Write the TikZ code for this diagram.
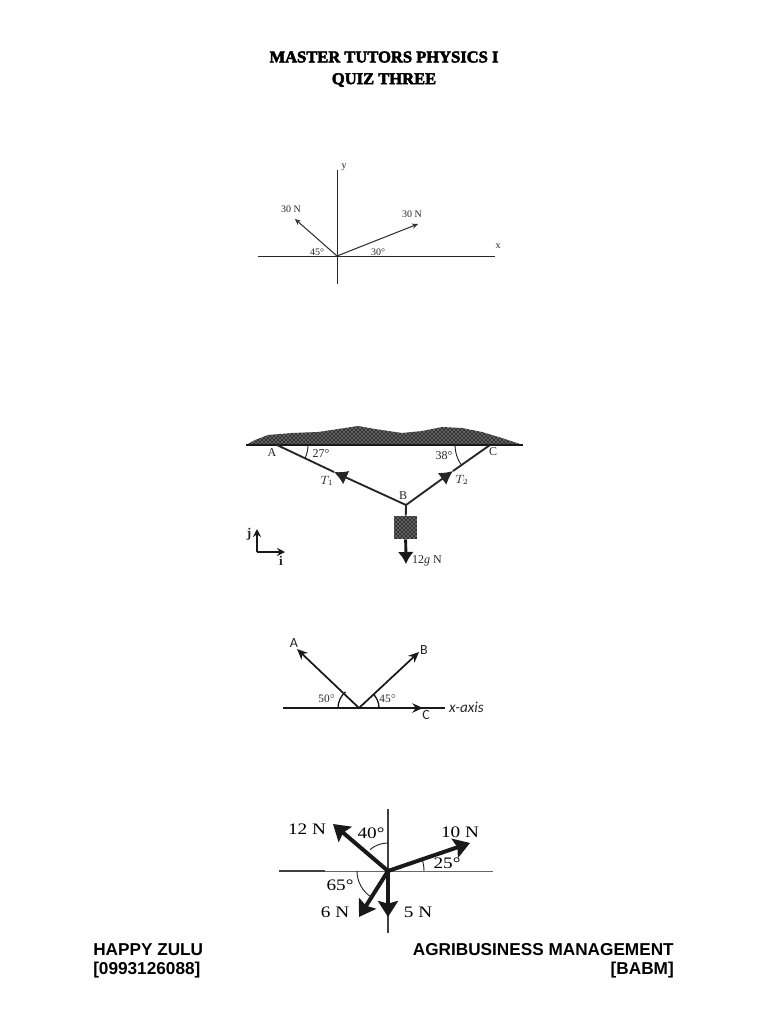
\documentclass[tikz,border=0pt]{standalone}
\usepackage{fontspec}
\usetikzlibrary{arrows.meta,patterns}
\setmainfont{Liberation Serif}
\newfontfamily\titlefont[FakeBold=3]{Liberation Serif}
\newfontfamily\widefont[FakeStretch=1.2]{Liberation Serif}
\newfontfamily\footfont{Liberation Sans}
\newfontfamily\calfont{Carlito}
\tikzset{
  lbl/.style={inner sep=0pt, text=black!85},
  tinyl/.style={lbl, font=\fontsize{7.5}{8}\selectfont},
  midl/.style={lbl, font=\fontsize{9}{10}\selectfont},
  smll/.style={lbl, font=\fontsize{8.5}{10}\selectfont},
  bigl/.style={lbl, text=black, font=\widefont\fontsize{12}{12}\selectfont},
  cal/.style={lbl, font=\calfont\fontsize{10.5}{11}\selectfont},
  foot/.style={inner sep=0pt, font=\footfont\bfseries\fontsize{12.9}{13}\selectfont},
  titl/.style={inner sep=0pt, font=\titlefont\bfseries\fontsize{12.4}{14}\selectfont},
  thin1/.style={line width=.7pt, black!85},
  vec1/.style={line width=.8pt, black!80, -{Stealth[length=4.5pt,width=4pt]}},
  rope/.style={line width=1.4pt, black!85},
  vec2/.style={rope, -{Latex[length=10pt,width=11pt]}},
  vec3/.style={line width=1.3pt, black!90, -{Stealth[length=8pt,width=7pt]}},
  heavy/.style={line width=3pt, black!90, -{Stealth[length=12pt,width=15pt,inset=2pt]}},
  arcl/.style={line width=.7pt, black!85},
  rough/.style={fill=black!80, draw=none}
}
\begin{document}
\begin{tikzpicture}[x=.75pt,y=-.75pt]
\useasboundingbox (0,0) rectangle (768,1024);

\node[titl] (title1) at (384,57){MASTER TUTORS PHYSICS I};
\node[titl] (title2) at (384,80){QUIZ THREE};

% first
\coordinate (o1) at (337,256);
\coordinate (xa) at (258,256);
\coordinate (xb) at (495,256);
\coordinate (ya) at (337,170);
\coordinate (yb) at (337,284);
\coordinate (v1) at (295,219);
\coordinate (v2) at (418,224);
\draw[thin1](xa) -- (xb);
\draw[thin1](ya) -- (yb);
\draw[vec1](o1) -- (v1);
\draw[vec1](o1) -- (v2);
\node[tinyl] (f1) at (291,209){30 N};
\node[tinyl] (f2) at (412,214){30 N};
\node[tinyl] (a1) at (317,252){45°};
\node[tinyl] (a2) at (378,252){30°};
\node[tinyl] (ly) at (344,167){y};
\node[tinyl] (lx) at (498,246){x};

% second
\def\hill{(246,445) -- (255,440) -- (268,435) -- (292,433) -- (318,432) -- (345,428) -- (358,426) -- (375,429) -- (402,433) -- (422,431) -- (442,427) -- (462,428) -- (482,432) -- (502,438) -- (523,445) -- cycle}
\fill[black!80] \hill;
\fill[pattern=crosshatch dots, pattern color=white] \hill;
\coordinate (ga) at (246,445);
\coordinate (gb) at (523,445);
\coordinate (A) at (277,445);
\coordinate (B) at (406,505);
\coordinate (C) at (490,445);
\coordinate (t1) at (334,472);
\coordinate (t2) at (453,471);
\coordinate (w) at (406,564);
\node[rough, minimum width=17.5pt, minimum height=17.5pt, inner sep=0pt] (box) at (405.5,527.5){};
\fill[pattern=crosshatch dots, pattern color=white] (box.south west) rectangle (box.north east);
\draw[line width=1.3pt,black!90](ga) -- (gb);
\draw[rope](t1) -- (A);
\draw[rope](t2) -- (C);
\draw[vec2](B) -- (t1);
\draw[vec2](B) -- (t2);
\draw[rope](B) -- (box);
\draw[line width=2.2pt,black!90,-{Latex[length=9pt,width=12pt]}](box) -- (w);
\draw[arcl] (308,445) arc[start angle=0,end angle=25,radius=31];
\draw[arcl] (455,445) arc[start angle=180,end angle=145,radius=35];
\node[midl] (la) at (272,453){A};
\node[midl] (lb) at (403,496){B};
\node[midl] (lc) at (493,452){C};
\node[midl] (ang27) at (321,454){27°};
\node[midl] (ang38) at (444,456){38°};
\node[midl] (lt1) at (327,481){$T_1$};
\node[midl] (lt2) at (462,480){$T_2$};
\node[midl] (lw) at (427,561){12\textit{g} N};
\coordinate (ij) at (257,552);
\coordinate (jt) at (257,529);
\coordinate (it) at (285,552);
\draw[vec3, -{Stealth[length=6pt,width=6pt]}](ij) -- (jt);
\draw[vec3, -{Stealth[length=6pt,width=6pt]}](ij) -- (it);
\node[midl, font=\bfseries\fontsize{10}{10}\selectfont] (lj) at (249,534){j};
\node[midl, font=\bfseries\fontsize{10}{10}\selectfont] (li) at (281,561){i};

% third
\coordinate (o3) at (359,708);
\coordinate (ca) at (283,708);
\coordinate (cb) at (445,708);
\coordinate (ct) at (423,708);
\coordinate (pa) at (297,649);
\coordinate (pb) at (419,652);
\draw[line width=.9pt,black!90](ca) -- (cb);
\draw[vec3](ca) -- (ct);
\draw[vec3](o3) -- (pa);
\draw[vec3](o3) -- (pb);
\draw[line width=1pt,black!90] (338,708) arc[start angle=180,end angle=230,radius=21];
\draw[line width=1pt,black!90] (379,708) arc[start angle=0,end angle=-45,radius=20];
\node[smll] (ang50) at (327,699){50$^{\circ}$};
\node[smll] (ang45) at (388,699){45$^{\circ}$};
\node[cal] (na) at (294,643){A};
\node[cal] (nb) at (424,650){B};
\node[cal] (nc) at (426,715){C};
\node[cal, font=\calfont\itshape\fontsize{11.4}{12}\selectfont] (nx) at (466.5,707){x-axis};

% fourth
\coordinate (o4) at (388,871);
\coordinate (ha) at (279,871);
\coordinate (hm) at (325,871);
\coordinate (hb) at (493,871);
\coordinate (va) at (388,809);
\coordinate (vb) at (388,933);
\coordinate (n12) at (333,824);
\coordinate (n10) at (470,843);
\coordinate (n6) at (359,917);
\coordinate (n5) at (388,917);
\draw[line width=.7pt,black!60](hm) -- (hb);
\draw[line width=.85pt,black!75](ha) -- (hm);
\draw[line width=.8pt,black!75](va) -- (vb);
\draw[heavy](o4) -- (n12);
\draw[heavy](o4) -- (n10);
\draw[heavy](o4) -- (n6);
\draw[heavy](o4) -- (n5);
\draw[arcl] (388,843) arc[start angle=-90,end angle=-130,radius=28];
\draw[arcl] (424,871) arc[start angle=0,end angle=-19,radius=36];
\draw[arcl] (357,871) arc[start angle=180,end angle=122,radius=31];
\node[bigl] (w12) at (307,829){12 N};
\node[bigl] (ang40) at (371,833){40°};
\node[bigl] (w10) at (460,832){10 N};
\node[bigl] (ang25) at (447,863){25°};
\node[bigl] (ang65) at (340,885){65°};
\node[bigl] (w6) at (335,912){6 N};
\node[bigl] (w5) at (418,912){5 N};

\node[foot, anchor=west] (nm1) at (93,950){HAPPY ZULU};
\node[foot, anchor=west] (nm2) at (93,970){[0993126088]};
\node[foot, anchor=east] (nm3) at (674,950){AGRIBUSINESS MANAGEMENT};
\node[foot, anchor=east] (nm4) at (674,970){[BABM]};
\end{tikzpicture}
\end{document}
